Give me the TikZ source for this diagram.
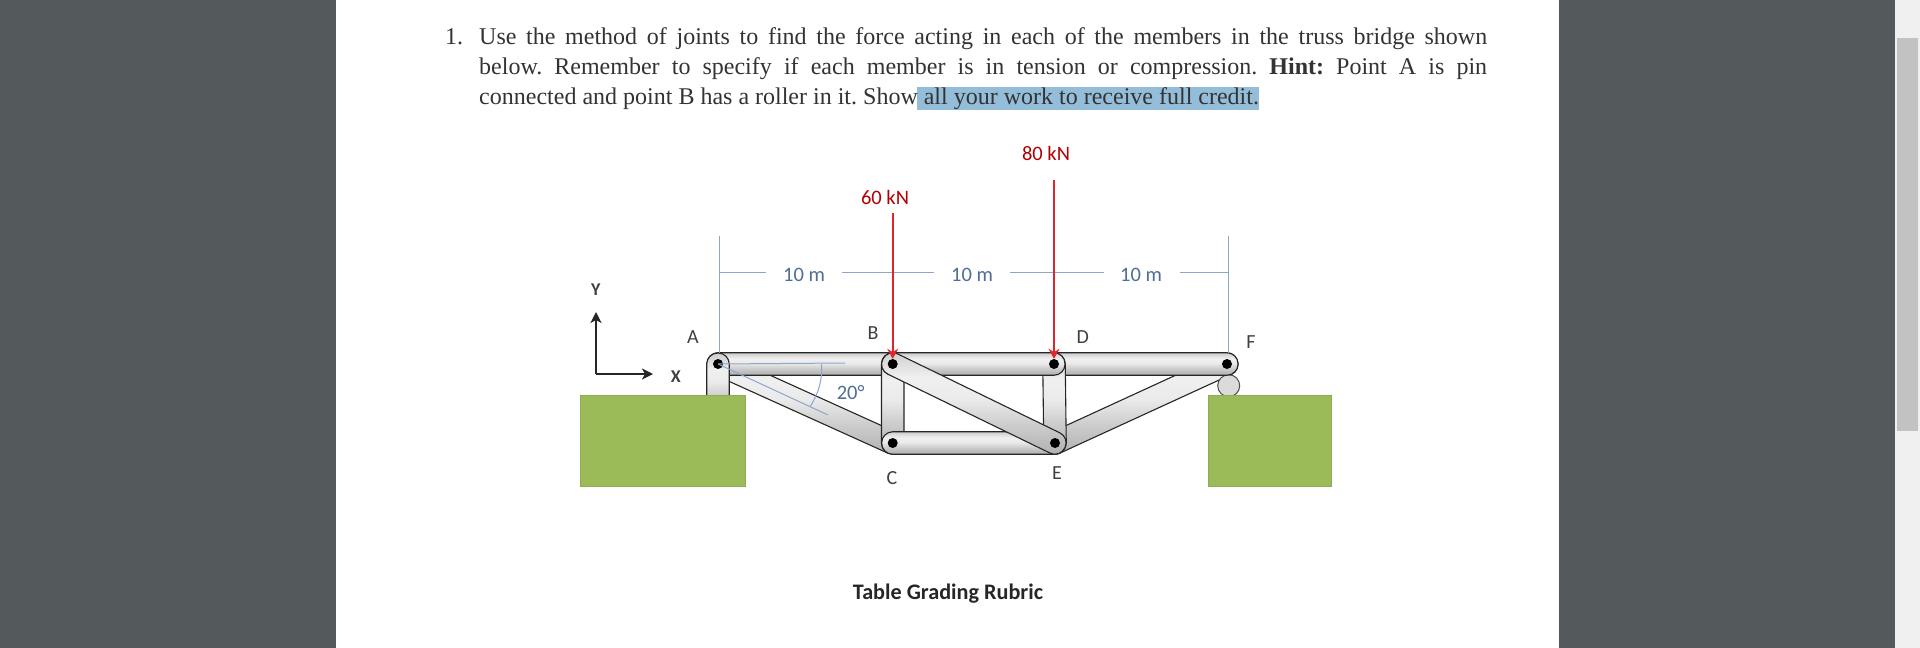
\documentclass[tikz,border=0pt]{standalone}
\usepackage{fontspec}
\setmainfont{Liberation Serif}
\newfontfamily\calfont{Carlito}
\usetikzlibrary{arrows.meta, calc}
\definecolor{pagegrey}{HTML}{54595B}
\definecolor{groundgreen}{HTML}{9BBB59}
\definecolor{dimblue}{HTML}{8CA7C9}
\definecolor{dimtext}{HTML}{4F6D96}
\definecolor{forcered}{HTML}{E0262B}
\definecolor{marktext}{HTML}{94BDD9}
\pgfdeclareverticalshading{memshade}{100bp}{color(0bp)=(black!32); color(25bp)=(black!32); color(40bp)=(black!20); color(52bp)=(black!8); color(62bp)=(black!6); color(75bp)=(black!20); color(100bp)=(black!20)}
\newcommand{\member}[2]{%
  \path let \p1=($(#2)-(#1)$), \n1={veclen(\x1,\y1)}, \n2={atan2(\y1,\x1)} in
    node[memberbar, minimum width=\n1+22pt, rotate=\n2] (m#1#2) at ($(#1)!0.5!(#2)$) {};}

\begin{document}
\frenchspacing
\begin{tikzpicture}[x=1pt,y=-1pt,>={Stealth[round]},
    memberbar/.style={draw=black!85,line width=1.1pt,rounded corners=11pt,minimum height=22.5pt,
      inner sep=0pt,shading=memshade},
    pin/.style={circle,fill=black,inner sep=0pt,minimum size=10pt},
    ground/.style={fill=groundgreen,draw=groundgreen!92!black,line width=0.6pt},
    dimline/.style={draw=dimblue,line width=1pt},
    force/.style={draw=forcered,line width=2.4pt,-{Stealth[length=10pt,width=11pt]}},
    axis/.style={draw=black!85,line width=1.8pt,-{Stealth[length=11pt,width=11pt,inset=3pt]}},
    bodyline/.style={anchor=base west,inner sep=0pt,font=\fontsize{24}{29}\selectfont,text=black!80},
    sidetext/.style={font=\calfont\fontsize{20}{24}\selectfont,text=black!75,inner sep=0pt},
    dimlabel/.style={font=\calfont\fontsize{20.5}{24}\selectfont,text=dimtext,inner sep=0pt},
    forcelabel/.style={font=\calfont\fontsize{20.5}{24}\selectfont,text=red!70!black,inner sep=0pt}]

  % page and scrollbar
  \useasboundingbox (0,0) rectangle (1920,648);
  \fill[pagegrey] (0,0) rectangle (1920,648);
  \fill[white] (335.5,0) rectangle (1559,648);
  \fill[black!6] (1895,0) rectangle (1920,648);
  \fill[black!24] (1897,38) rectangle (1918,431);

  % question text
  \fill[marktext] (917,87) rectangle (1259,110);
  \node[bodyline] (num) at (445,44) {1.};
  \node[bodyline] (line1) at (479,44) {\makebox[1008pt][s]{Use the method of joints to find the force acting in each of the members in the truss bridge shown}};
  \node[bodyline] (line2) at (479,74) {\makebox[1008pt][s]{below. Remember to specify if each member is in tension or compression. \textbf{Hint:} Point A is pin}};
  \node[bodyline] (line3) at (479,104) {connected and point B has a roller in it. Show all your work to receive full credit.};

  % joints
  \coordinate (A) at (718,364);
  \coordinate (B) at (892.7,364);
  \coordinate (C) at (892.7,443);
  \coordinate (D) at (1054,364);
  \coordinate (E) at (1055,443);
  \coordinate (F) at (1227,364);
  \coordinate (S) at (718,405);

  % members
  \member{A}{C}
  \member{A}{B}
  \member{S}{A}
  \member{C}{B}
  \member{C}{E}
  \member{E}{F}
  \node[circle,draw=black!70,line width=1pt,inner sep=0pt,minimum size=22pt,fill=black!14] (roller) at (1228.7,385.7) {};
  \member{D}{F}
  \member{E}{D}
  \member{B}{D}
  \member{B}{E}
  \foreach \j in {A,B,C,D,E,F}
    \node[pin] (pin\j) at (\j) {};

  % supports
  \draw[ground] (580,395) rectangle (745,486);
  \draw[ground] (1208.7,395) rectangle (1331,486);

  % dimensions
  \coordinate (dimA) at (719,272);
  \coordinate (dimF) at (1228,272);
  \node[dimlabel] (dim1) at (804,275) {10 m};
  \node[dimlabel] (dim2) at (972,275) {10 m};
  \node[dimlabel] (dim3) at (1141,275) {10 m};
  \draw[dimline] (719,236) -- (719,353);
  \draw[dimline] (1228,236) -- (1228,353);
  \draw[dimline] (dimA) -- ++(47,0);
  \draw[dimline] (dim1.east) ++(17,-3) -- ++(92,0);
  \draw[dimline] (dim2.east) ++(17,-3) -- ++(94,0);
  \draw[dimline] (dim3.east) ++(18,-3) -- (dimF);

  % angle
  \coordinate (angA) at (845,363);
  \coordinate (angC) at (828,415);
  \coordinate (arc1) at (821.7,364);
  \coordinate (arc2) at (810,407);
  \draw[dimline] (A) -- (angA);
  \draw[dimline] (A) -- (angC);
  \draw[dimline] (arc1) to[bend left=16] (arc2);
  \node[dimlabel] (ang) at (850.7,393) {20°};

  % loads
  \coordinate (load1) at (892.7,213);
  \coordinate (load2) at (1054,180);
  \draw[force] (load1) -- (pinB.north);
  \draw[force] (load2) -- (pinD.north);
  \node[forcelabel] (f1) at (885,197) {60 kN};
  \node[forcelabel] (f2) at (1046,153) {80 kN};

  % axes
  \coordinate (O) at (596,374);
  \coordinate (Ytip) at (596,312);
  \coordinate (Xtip) at (653,374);
  \draw[axis] (O) -- (Ytip);
  \draw[axis] (O) -- (Xtip);
  \node[sidetext,font=\calfont\bfseries\fontsize{18}{22}\selectfont] (ylab) at (595.7,290) {Y};
  \node[sidetext,font=\calfont\bfseries\fontsize{18}{22}\selectfont] (xlab) at (675.7,377) {X};

  % joint names
  \node[sidetext] (labA) at (693,337) {A};
  \node[sidetext] (labB) at (873,333) {B};
  \node[sidetext] (labC) at (892,478) {C};
  \node[sidetext] (labD) at (1082.7,337) {D};
  \node[sidetext] (labE) at (1057,473) {E};
  \node[sidetext] (labF) at (1251,342) {F};

  \node[font=\calfont\bfseries\fontsize{22.2}{26}\selectfont,text=black!85,inner sep=0pt] (rubric) at (948,594) {Table Grading Rubric};
\end{tikzpicture}
\end{document}
